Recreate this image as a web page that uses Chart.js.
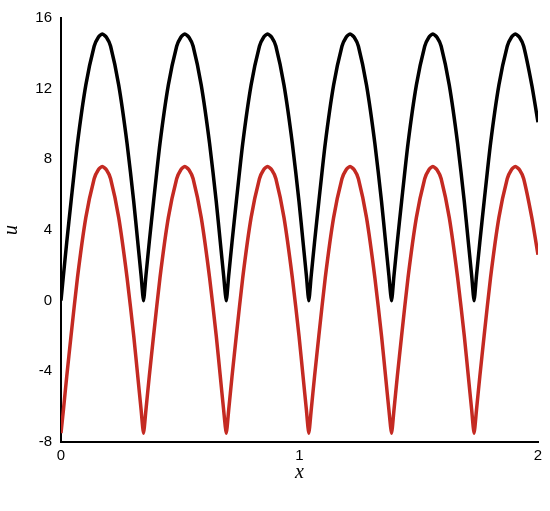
<!DOCTYPE html>
<html>
<head>
<meta charset="utf-8">
<script src="https://cdn.jsdelivr.net/npm/chart.js@4/dist/chart.umd.min.js"></script>
<style>
  body { margin: 0; background: #fff; }
  #wrap { width: 550px; height: 511px; }
</style>
</head>
<body>
<div id="wrap"><canvas id="chart"></canvas></div>
<script>
// x positions (cusps near 0, 0.346, 0.693, 1.039, 1.386, 1.732)
const xValues = [
  0, 0.010, 0.024, 0.042, 0.069, 0.104, 0.139, 0.156, 0.173, 0.191, 0.208, 0.242, 0.277, 0.305, 0.322, 0.336,
  0.346, 0.356, 0.370, 0.388, 0.415, 0.450, 0.485, 0.502, 0.519, 0.537, 0.554, 0.588, 0.623, 0.651, 0.668, 0.682,
  0.693, 0.703, 0.717, 0.735, 0.762, 0.797, 0.832, 0.849, 0.866, 0.884, 0.901, 0.935, 0.970, 0.998, 1.015, 1.029,
  1.039, 1.049, 1.063, 1.081, 1.108, 1.143, 1.178, 1.195, 1.212, 1.230, 1.247, 1.281, 1.316, 1.344, 1.361, 1.375,
  1.386, 1.396, 1.410, 1.428, 1.455, 1.490, 1.525, 1.542, 1.559, 1.577, 1.594, 1.628, 1.663, 1.691, 1.708, 1.722,
  1.732, 1.742, 1.756, 1.774, 1.801, 1.836, 1.871, 1.888, 1.905, 1.923, 1.940, 1.974, 2.0
];
const blackValues = [
  0, 1.4, 3.3, 5.6, 8.9, 12.2, 14.4, 14.9, 15.1, 14.9, 14.4, 12.2, 8.9, 5.6, 3.3, 1.4,
  0, 1.4, 3.3, 5.6, 8.9, 12.2, 14.4, 14.9, 15.1, 14.9, 14.4, 12.2, 8.9, 5.6, 3.3, 1.4,
  0, 1.4, 3.3, 5.6, 8.9, 12.2, 14.4, 14.9, 15.1, 14.9, 14.4, 12.2, 8.9, 5.6, 3.3, 1.4,
  0, 1.4, 3.3, 5.6, 8.9, 12.2, 14.4, 14.9, 15.1, 14.9, 14.4, 12.2, 8.9, 5.6, 3.3, 1.4,
  0, 1.4, 3.3, 5.6, 8.9, 12.2, 14.4, 14.9, 15.1, 14.9, 14.4, 12.2, 8.9, 5.6, 3.3, 1.4,
  0, 1.4, 3.3, 5.6, 8.9, 12.2, 14.4, 14.9, 15.1, 14.9, 14.4, 12.2, 10.1
];
const redValues = [
  -7.5, -6.2, -4.3, -2.0, 1.3, 4.7, 6.9, 7.4, 7.6, 7.4, 6.9, 4.7, 1.3, -2.0, -4.3, -6.2,
  -7.5, -6.2, -4.3, -2.0, 1.3, 4.7, 6.9, 7.4, 7.6, 7.4, 6.9, 4.7, 1.3, -2.0, -4.3, -6.2,
  -7.5, -6.2, -4.3, -2.0, 1.3, 4.7, 6.9, 7.4, 7.6, 7.4, 6.9, 4.7, 1.3, -2.0, -4.3, -6.2,
  -7.5, -6.2, -4.3, -2.0, 1.3, 4.7, 6.9, 7.4, 7.6, 7.4, 6.9, 4.7, 1.3, -2.0, -4.3, -6.2,
  -7.5, -6.2, -4.3, -2.0, 1.3, 4.7, 6.9, 7.4, 7.6, 7.4, 6.9, 4.7, 1.3, -2.0, -4.3, -6.2,
  -7.5, -6.2, -4.3, -2.0, 1.3, 4.7, 6.9, 7.4, 7.6, 7.4, 6.9, 4.7, 2.6
];
const yTicks = [-8, -4, 0, 4, 8, 12, 16];
const xTicks = [0, 1, 2];

function toPoints(ys) {
  return xValues.map((x, i) => ({ x: x, y: ys[i] }));
}

const ctx = document.getElementById('chart').getContext('2d');
new Chart(ctx, {
  type: 'scatter',
  data: {
    datasets: [
      { data: toPoints(blackValues), showLine: true, borderColor: '#000', borderWidth: 3.5,
        pointRadius: 0, tension: 0.2, borderJoinStyle: 'round' },
      { data: toPoints(redValues), showLine: true, borderColor: '#c42a22', borderWidth: 3.5,
        pointRadius: 0, tension: 0.2, borderJoinStyle: 'round' }
    ]
  },
  options: {
    responsive: true,
    maintainAspectRatio: false,
    animation: false,
    layout: { padding: { top: 18, right: 12, left: 0, bottom: 26 } },
    plugins: { legend: { display: false }, tooltip: { enabled: false } },
    scales: {
      x: {
        type: 'linear', min: 0, max: 2,
        afterBuildTicks: s => { s.ticks = xTicks.map(v => ({ value: v })); },
        grid: { display: false, drawTicks: true, tickLength: 5 },
        border: { color: '#000', width: 2 },
        ticks: { color: '#000', font: { family: 'Arial, Liberation Sans', size: 15 }, padding: 0 },
        title: { display: true, text: 'x', color: '#000', padding: { top: -4, bottom: 0 },
                 font: { family: 'Liberation Serif', style: 'italic', size: 20 } }
      },
      y: {
        type: 'linear', min: -8, max: 16,
        afterBuildTicks: s => { s.ticks = yTicks.map(v => ({ value: v })); },
        afterFit: s => { s.width = 61; },
        grid: { display: false, tickLength: 5 },
        border: { color: '#000', width: 2 },
        ticks: { color: '#000', font: { family: 'Arial, Liberation Sans', size: 15 }, padding: 4 },
        title: { display: true, text: 'u', color: '#000', padding: 0,
                 font: { family: 'Liberation Serif', style: 'italic', size: 20 } }
      }
    }
  }
});
</script>
</body>
</html>
